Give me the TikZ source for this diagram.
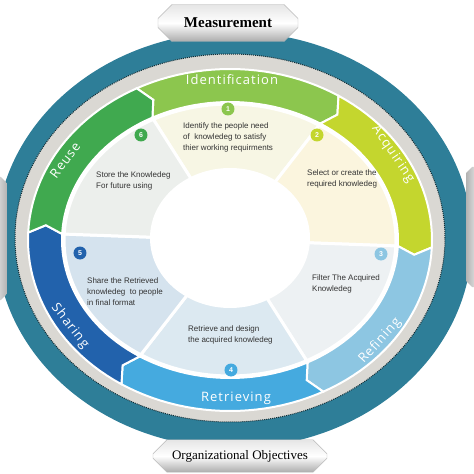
\documentclass[tikz,border=0pt]{standalone}
\usepackage{fontspec}
\setmainfont{Liberation Serif}
\newfontfamily\ringfont[LetterSpace=8]{Open Sans}
\newfontfamily\stepfont{Liberation Sans}
\usetikzlibrary{shapes.misc}
\definecolor{ringteal}{HTML}{2E7E98}
\definecolor{ringgray}{HTML}{DAD8D3}
\definecolor{identgreen}{HTML}{8CC64E}
\definecolor{acqyellow}{HTML}{C4D62E}
\definecolor{refblue}{HTML}{8DC6E2}
\definecolor{retblue}{HTML}{45AADF}
\definecolor{sharblue}{HTML}{2262AC}
\definecolor{reusegreen}{HTML}{40A94F}
\definecolor{paleone}{HTML}{F7F6E4}
\definecolor{paletwo}{HTML}{FBF5DE}
\definecolor{palethree}{HTML}{EDF1F3}
\definecolor{palefour}{HTML}{DCE9F1}
\definecolor{palefive}{HTML}{D5E3EE}
\definecolor{palesix}{HTML}{ECEFEC}
\tikzset{
  steptext/.style={anchor=north west, align=left, inner sep=0pt, text=black!80,
    font=\stepfont\fontsize{8}{11}\selectfont},
  ringlabel/.style={text=white, inner sep=0pt, font=\ringfont\fontsize{13}{13}\selectfont},
  numdot/.style={circle, fill=#1, text=white, inner sep=0pt, minimum size=13pt,
    font=\stepfont\bfseries\fontsize{7}{7}\selectfont},
  framebox/.style={chamfered rectangle, chamfered rectangle xsep=7pt,
    chamfered rectangle ysep=7pt, draw=gray!55, top color=gray!20,
    bottom color=gray!65, middle color=white}
}
\begin{document}
\begin{tikzpicture}[x=1pt,y=1pt]
\useasboundingbox (-230,-234) rectangle (244,240);
\fill[ringteal] (4,0) ellipse [x radius=238pt, y radius=208pt];
\shade[left color=gray!45, right color=gray!60, middle color=white] (-260,63) -- (-229,63) -- (-223,57) -- (-223,-54) -- (-229,-60) -- (-260,-60) -- cycle;
\shade[left color=gray!60, right color=gray!45, middle color=white] (270,73) -- (242,73) -- (236,67) -- (236,-41) -- (242,-47) -- (270,-47) -- cycle;
\fill[ringgray] (0,2) ellipse [x radius=215pt, y radius=184pt];
\draw[ringteal!35!black, densely dotted, line width=1pt] (0,2) ellipse [x radius=215pt, y radius=184pt];
\foreach \a/\c in {117.5/identgreen, 57.5/acqyellow, -2.5/refblue, -62.5/retblue, -122.5/sharblue, 177.5/reusegreen}
  \filldraw[fill=\c, draw=white, line width=2pt] plot[domain=\a:\a-60, samples=25] ({202*cos(\x)},{171*sin(\x)})
    -- ({185*cos(\a-63)},{154*sin(\a-63)})
    -- plot[domain=\a-60:\a, samples=25] ({168*cos(\x)},{138*sin(\x)})
    -- ({185*cos(\a-3)},{154*sin(\a-3)}) -- cycle;
\foreach \a/\c in {117.5/paleone, 57.5/paletwo, -2.5/palethree, -62.5/palefour, -122.5/palefive, 177.5/palesix}
  \filldraw[fill=\c, draw=white, line width=3pt] (0,0) -- plot[domain=\a:\a-60, samples=25] ({166*cos(\x)},{136*sin(\x)}) -- cycle;
\fill[white] (0,2) ellipse [x radius=80pt, y radius=70pt];
\node[numdot=identgreen] (n1) at (-2,131) {1};
\node[numdot=acqyellow] (n2) at (87,105) {2};
\node[numdot=refblue] (n3) at (151,-14) {3};
\node[numdot=retblue] (n4) at (1,-130) {4};
\node[numdot=sharblue] (n5) at (-150,-13) {5};
\node[numdot=reusegreen] (n6) at (-89,105) {6};
\node[steptext] (t1) at (-47,117) {Identify the people need\\of~ knowledeg to satisfy\\thier working requirments};
\node[steptext] (t2) at (77,70) {Select or create the\\required knowledeg};
\node[steptext] (t3) at (82,-35) {Filter The Acquired\\Knowledeg};
\node[steptext] (t4) at (-42,-86) {Retrieve and design\\the acquired knowledeg};
\node[steptext] (t5) at (-143,-38) {Share the Retrieved\\knowledeg~ to people\\in final format};
\node[steptext] (t6) at (-134,68) {Store the Knowledeg\\For future using};
\node[ringlabel] (identification) at (2,160) {Identification};
\node[ringlabel, rotate=-56] (acquiring) at (163,86) {Acquiring};
\node[ringlabel, rotate=48] (refining) at (150,-101) {Refining};
\node[ringlabel] (retrieving) at (6,-158) {Retrieving};
\node[ringlabel, rotate=-52] (sharing) at (-160,-86) {Sharing};
\node[ringlabel, rotate=53] (reuse) at (-165,80) {Reuse};
\node[framebox, minimum width=140pt, minimum height=37pt, font=\bfseries\fontsize{15}{15}\selectfont] (meas) at (-2,217) {Measurement};
\node[framebox, minimum width=174pt, minimum height=29pt, font=\fontsize{13}{13}\selectfont] (objectives) at (10,-216) {Organizational Objectives};
\end{tikzpicture}
\end{document}
